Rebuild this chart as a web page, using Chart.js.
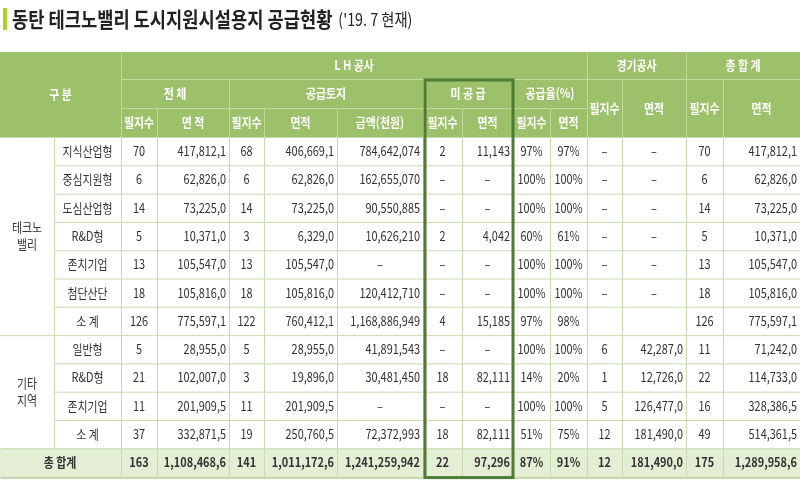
<!DOCTYPE html>
<html><head><meta charset="utf-8">
<script src="https://cdn.jsdelivr.net/npm/chart.js@4"></script>
<style>html,body{margin:0;padding:0;background:#fff}canvas{display:block}</style>
</head><body><canvas id="c" width="800" height="480"></canvas>
<script>
const title = "동탄 테크노밸리 도시지원시설용지 공급현황";
const titleNote = "('19. 7 현재)";
const groups = ["테크노\n밸리", "기타\n지역"];
const groupSizes = [7, 4];
const categories = ["지식산업형","중심지원형","도심산업형","R&D형","존치기업","첨단산단","소 계","일반형","R&D형","존치기업","소 계","총 합계"];
const allCount   = ["70","6","14","5","13","18","126","5","21","11","37","163"];
const allArea    = ["417,812,1","62,826,0","73,225,0","10,371,0","105,547,0","105,816,0","775,597,1","28,955,0","102,007,0","201,909,5","332,871,5","1,108,468,6"];
const supCount   = ["68","6","14","3","13","18","122","5","3","11","19","141"];
const supArea    = ["406,669,1","62,826,0","73,225,0","6,329,0","105,547,0","105,816,0","760,412,1","28,955,0","19,896,0","201,909,5","250,760,5","1,011,172,6"];
const supAmount  = ["784,642,074","162,655,070","90,550,885","10,626,210","–","120,412,710","1,168,886,949","41,891,543","30,481,450","–","72,372,993","1,241,259,942"];
const unsCount   = ["2","–","–","2","–","–","4","–","18","–","18","22"];
const unsArea    = ["11,143","–","–","4,042","–","–","15,185","–","82,111","–","82,111","97,296"];
const rateCount  = ["97%","100%","100%","60%","100%","100%","97%","100%","14%","100%","51%","87%"];
const rateArea   = ["97%","100%","100%","61%","100%","100%","98%","100%","20%","100%","75%","91%"];
const gyCount    = ["–","–","–","–","–","–","","6","1","5","12","12"];
const gyArea     = ["–","–","–","–","–","–","","42,287,0","12,726,0","126,477,0","181,490,0","181,490,0"];
const totCount   = ["70","6","14","5","13","18","126","11","22","16","49","175"];
const totArea    = ["417,812,1","62,826,0","73,225,0","10,371,0","105,547,0","105,816,0","775,597,1","71,242,0","114,733,0","328,386,5","514,361,5","1,289,958,6"];
const columns = [allCount, allArea, supCount, supArea, supAmount, unsCount, unsArea, rateCount, rateArea, gyCount, gyArea, totCount, totArea];
const colAlign = ["c","r","c","r","r","c","r","c","c","c","r","c","r"];

// layout (scale units)
const colX = [121,157,229,264,337,423,462,513,550,587,622,686,723,800];
const dataTop = 137, rowH = 28.3;

const GREEN = "#9dc16a", LINE = "#c8dbb0", DARK = "#4f7b35";
const SQ = 0.84; // horizontal condensing

const tablePlugin = {
  id: "table",
  afterDraw(chart) {
    const ctx = chart.ctx, xs = chart.scales.x, ys = chart.scales.y;
    const X = v => xs.getPixelForValue(v), Y = v => ys.getPixelForValue(v);
    const txt = (t, x, y, align) => {
      ctx.save(); ctx.translate(x, y); ctx.scale(SQ, 1); ctx.textAlign = align || "center";
      ctx.fillText(t, 0, 0); ctx.restore();
    };
    ctx.save();
    // title
    ctx.fillStyle = "#b5cc2e"; ctx.fillRect(X(3), Y(8), 4, Y(30)-Y(8));
    ctx.fillStyle = "#222"; ctx.textBaseline = "middle";
    ctx.font = "bold 21px 'Noto Sans CJK KR'";
    txt(title, X(12), Y(19), "left");
    const tw = ctx.measureText(title).width*SQ;
    ctx.font = "17px 'Noto Sans CJK KR'";
    txt(titleNote, X(12)+tw+6, Y(20), "left");
    // header bg
    ctx.fillStyle = GREEN;
    ctx.fillRect(X(0), Y(52), X(800)-X(0), Y(137)-Y(52));
    const bottom = dataTop + rowH*12;
    const tTop = dataTop + rowH*11;
    ctx.fillStyle = "#e3eed4"; ctx.fillRect(X(0), Y(tTop), X(800)-X(0), Y(bottom)-Y(tTop));
    ctx.lineWidth = 1;
    const line = (x1,y1,x2,y2,c)=>{ctx.strokeStyle=c;ctx.beginPath();ctx.moveTo(X(x1)+.5,Y(y1)+.5);ctx.lineTo(X(x2)+.5,Y(y2)+.5);ctx.stroke();};
    const HL = "#c3da9f";
    line(121,79,800,79,HL);
    line(121,108,587,108,HL);
    line(121,52,121,137,HL);
    [587,686].forEach(x=>line(x,52,x,137,HL));
    [229,423,513].forEach(x=>line(x,79,x,137,HL));
    [157,264,337,462,550].forEach(x=>line(x,108,x,137,HL));
    [622,723].forEach(x=>line(x,79,x,137,HL));
    for (let i=0;i<=12;i++){
      const y = dataTop + rowH*i;
      let x0 = 54;
      if (i===0 || i===7 || i===11 || i===12) x0 = 0;
      line(x0,y,800,y,LINE);
    }
    line(54,dataTop,54,tTop,LINE);
    colX.forEach(x=>{ if (x<800) line(x,dataTop,x,bottom,LINE); });
    line(0,bottom+1,800,bottom+1,"#9fbf7a");
    // header texts
    ctx.fillStyle = "#fff";
    ctx.font = "bold 13px 'Noto Sans CJK KR'";
    const ht = (t,x1,x2,y1,y2)=>txt(t,(X(x1)+X(x2))/2,(Y(y1)+Y(y2))/2);
    ht("구 분",0,121,52,137);
    ht("L H 공사",121,587,52,79);
    ht("경기공사",587,686,52,79);
    ht("총 합 계",686,800,52,79);
    ht("전 체",121,229,79,108); ht("공급토지",229,423,79,108); ht("미 공 급",423,513,79,108); ht("공급율(%)",513,587,79,108);
    const sub = ["필지수","면 적","필지수","면적","금액(천원)","필지수","면적","필지수","면적"];
    sub.forEach((t,i)=>ht(t,colX[i],colX[i+1],108,137));
    ht("필지수",587,622,79,137); ht("면적",622,686,79,137); ht("필지수",686,723,79,137); ht("면적",723,800,79,137);
    // group labels
    ctx.fillStyle = "#333"; ctx.font = "13px 'Noto Sans CJK KR'";
    let r = 0;
    groups.forEach((g,gi)=>{
      const y1 = dataTop + rowH*r, y2 = dataTop + rowH*(r+groupSizes[gi]);
      const lines = g.split("\n");
      lines.forEach((l,li)=>txt(l, X(27), (Y(y1)+Y(y2))/2 + (li-(lines.length-1)/2)*17));
      r += groupSizes[gi];
    });
    // data
    categories.forEach((cat,i)=>{
      const yc = (Y(dataTop+rowH*i)+Y(dataTop+rowH*(i+1)))/2;
      const isTotal = i===11;
      ctx.font = (isTotal?"bold ":"")+"13px 'Noto Sans CJK KR'";
      ctx.fillStyle = "#333";
      if (isTotal) txt(cat, X(60), yc); else txt(cat, (X(54)+X(121))/2, yc);
      columns.forEach((col,j)=>{
        const v = col[i]; if (!v) return;
        if (colAlign[j]==="r" && v!=="–") txt(v, X(colX[j+1])-3, yc, "right");
        else txt(v, (X(colX[j])+X(colX[j+1]))/2, yc);
      });
    });
    ctx.strokeStyle = DARK; ctx.lineWidth = 3;
    ctx.strokeRect(X(425), Y(80), X(513)-X(425), Y(bottom+1)-Y(80));
    ctx.restore();
  }
};

new Chart(document.getElementById("c"), {
  type: "scatter",
  data: { datasets: [{ data: [] }] },
  options: {
    responsive: false, animation: false, devicePixelRatio: 1,
    layout: { padding: 0 },
    plugins: { legend: { display: false }, tooltip: { enabled: false } },
    scales: {
      x: { type: "linear", min: 0, max: 800, display: false },
      y: { type: "linear", min: 0, max: 480, reverse: true, display: false }
    }
  },
  plugins: [tablePlugin]
});
</script></body></html>
